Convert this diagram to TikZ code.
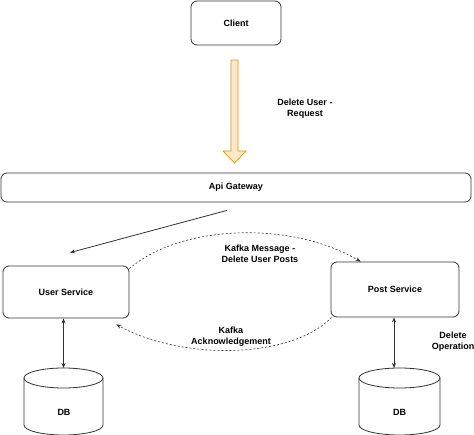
\documentclass[tikz,border=0pt]{standalone}
\usepackage{fontspec}
\setmainfont{Liberation Sans}
\usetikzlibrary{arrows.meta,calc}
\definecolor{lineclr}{HTML}{333333}
\definecolor{arrfill}{HTML}{FFE6CC}
\definecolor{arrdraw}{HTML}{D79B00}
\begin{document}
\begin{tikzpicture}[x=1pt,y=-1pt,
  font=\fontsize{9}{11}\selectfont\bfseries,
  box/.style={draw=lineclr, line width=0.8pt, rounded corners=6pt, fill=white, inner sep=0pt, align=center},
  lbl/.style={align=center, inner sep=0pt},
  conn/.style={draw=lineclr, line width=0.8pt, -{Stealth[length=5pt,width=4pt]}},
  biconn/.style={draw=lineclr, line width=0.8pt, {Stealth[length=5pt,width=4pt]}-{Stealth[length=5pt,width=4pt]}},
  kafka/.style={conn, dashed, dash pattern=on 2pt off 2pt, line width=0.6pt},
  dbshape/.style={draw=lineclr, line width=0.8pt, fill=white},
  slot/.style={inner sep=0pt, outer sep=0pt}
]
\useasboundingbox (0,0) rectangle (474,435);

% boxes
\node[box, minimum width=90pt, minimum height=44pt] (client) at (236,23) {Client};
\node[box, minimum width=470pt, minimum height=29pt] (gw) at (236,187.5) {Api Gateway};
\node[box, minimum width=126pt, minimum height=52pt] (user) at (66,292) {User Service};
\node[box, minimum width=128pt, minimum height=55pt] (post) at (395,289.5) {Post Service};

% databases
\node[slot, minimum width=79pt, minimum height=67pt] (db1) at (63.5,401.5) {};
\draw[dbshape] (24,378) -- (24,425) arc[start angle=180, end angle=360, x radius=39.5pt, y radius=10pt] -- (103,378);
\draw[dbshape] (63.5,378) ellipse [x radius=39.5pt, y radius=10pt];
\node[lbl] (db1t) at (64,412) {DB};

\node[slot, minimum width=81pt, minimum height=67pt] (db2) at (399.5,401.5) {};
\draw[dbshape] (359,378) -- (359,425) arc[start angle=180, end angle=360, x radius=40.5pt, y radius=10pt] -- (440,378);
\draw[dbshape] (399.5,378) ellipse [x radius=40.5pt, y radius=10pt];
\node[lbl] (db2t) at (399.5,412) {DB};

% block arrow client -> gateway
\draw[draw=arrdraw, fill=arrfill, line width=0.7pt]
  (231,60) -- (238,60) -- (238,151) -- (246,151) -- (234.5,163) -- (223,151) -- (231,151) -- cycle;
\node[lbl] (reqlbl) at (305,108.5) {Delete User -\\Request};

% gateway -> user service
\draw[conn] ([xshift=-9pt,yshift=-8pt]gw.south) -- ([xshift=4pt,yshift=13pt]user.north);

% user <-> db
\draw[biconn] (db1.north |- user.south) -- (db1.north);
\draw[biconn] (post.south -| 394,0) -- (394,368);

% kafka message
\draw[kafka] ([yshift=-3pt]user.north east) .. controls (180,225) and (290,220) .. ([xshift=30pt]post.north west);
\node[lbl] (msglbl) at (260,254) {Kafka Message -\\Delete User Posts};

% acknowledgement
\draw[kafka] ([xshift=1pt]post.south west) .. controls (290,360) and (180,360) .. ([xshift=-13pt,yshift=-6pt]user.south east);
\node[lbl] (acklbl) at (231,337) {Kafka\\Acknowledgement};

\node[lbl] (dellbl) at (453,342) {Delete\\Operation};
\end{tikzpicture}
\end{document}
